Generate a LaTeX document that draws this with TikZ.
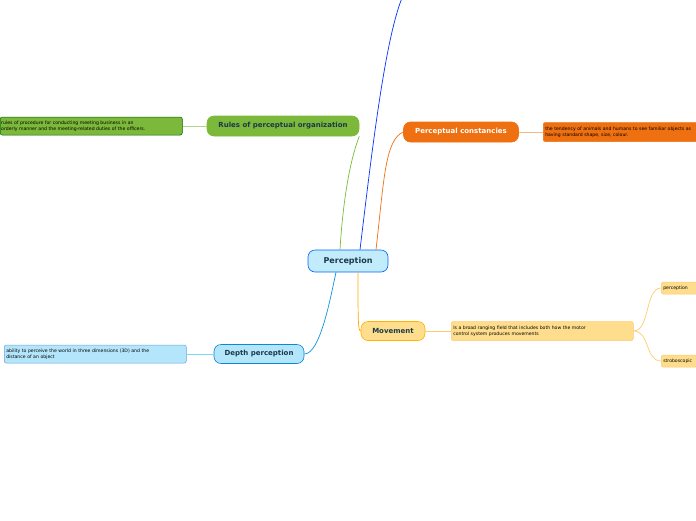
\documentclass[tikz,border=0pt]{standalone}
\usepackage{fontspec}
\setmainfont{DejaVu Sans}
\begin{document}
\begin{tikzpicture}[x=1pt,y=-1pt,
 main/.style={rounded corners=7pt,draw,line width=0.6pt,minimum height=20pt,font=\fontsize{7}{8}\selectfont\bfseries,inner sep=2pt},
 det/.style={rounded corners=2pt,draw,line width=0.5pt,font=\fontsize{4.6}{5.6}\selectfont,align=left,inner sep=2pt,anchor=west},
 con/.style={line width=0.7pt}]
\useasboundingbox (0,0) rectangle (696,520);
\clip (0,0) rectangle (696,520);
\definecolor{grn}{HTML}{7CB83A}\definecolor{org}{HTML}{EE7011}
\definecolor{yel}{HTML}{FEDD8C}\definecolor{lbl}{HTML}{B3E6FA}
\definecolor{dtx}{HTML}{1A3A4A}
\coordinate (top) at (402,-2);
\node[main,fill=lbl!80!white,draw=blue!60!cyan,minimum width=80pt,minimum height=22pt,font=\fontsize{8}{9}\selectfont\bfseries,text=dtx] (P) at (348,261) {Perception};
\node[main,fill=grn,draw=grn,minimum width=152pt,text=dtx] (R) at (283,126) {Rules of perceptual organization};
\node[det,fill=grn,draw=black!60!green,minimum height=18pt,text width=180pt,inner xsep=1pt] (Rd) at (0,126) {rules of procedure for conducting meeting business in an\\orderly manner and the meeting-related duties of the officers.};
\node[main,fill=org,draw=org,minimum width=115pt,text=white] (C) at (461,132) {Perceptual constancies};
\node[det,fill=org,draw=org,minimum height=19pt,text width=220pt] (Cd) at (543,132) {the tendency of animals and humans to see familiar objects as\\having standard shape, size, colour.};
\node[main,fill=yel,draw=orange!60!yellow,minimum width=64pt,minimum height=19pt,text=dtx] (M) at (393,331) {Movement};
\node[det,fill=yel,draw=yel!80!orange,minimum height=19pt,text width=178pt] (Md) at (451,331) {Is a broad ranging field that includes both how the motor\\control system produces movements};
\node[det,fill=yel,draw=yel!80!orange,minimum height=12pt,text width=60pt] (Mp) at (661,288) {perception};
\node[det,fill=yel,draw=yel!80!orange,minimum height=12pt,text width=60pt] (Ms) at (661,361) {stroboscopic};
\node[main,fill=lbl,draw=cyan!70!blue,minimum width=90pt,minimum height=19pt,text=dtx] (D) at (259,354) {Depth perception};
\node[det,fill=lbl,draw=cyan!60!blue!60,minimum height=18pt,text width=178pt] (Dd) at (4,354) {ability to perceive the world in three dimensions (3D) and the\\distance of an object};
\draw[con,draw=blue!80!cyan] (P.north)++(12,0) .. controls (372,150) and (385,40) .. (top);
\draw[con,grn] (P.north)++(-8,0) .. controls (343,200) and (350,160) .. (R.south east)++(-8,0);
\draw[con,org] (P.north)++(28,0) .. controls (384,180) and (385,140) .. (C.west);
\draw[con,orange!70!yellow] (P.south)++(10,0) .. controls (358,320) and (358,331) .. (M.west);
\draw[con,cyan!80!blue] (P.south)++(-12,0) .. controls (330,300) and (320,354) .. (D.east);
\draw[con,grn!60!white] (R.west) -- (Rd.east);
\draw[con,org!50!white] (C.east) -- (Cd.west);
\draw[con,yel!80!orange] (M.east) -- (Md.west);
\draw[con,cyan!50!white] (D.west) -- (Dd.east);
\draw[con,yel!80!orange] (Md.east) .. controls (650,331) and (645,288) .. (Mp.west);
\draw[con,yel!80!orange] (Md.east) .. controls (650,331) and (645,361) .. (Ms.west);
\end{tikzpicture}
\end{document}
